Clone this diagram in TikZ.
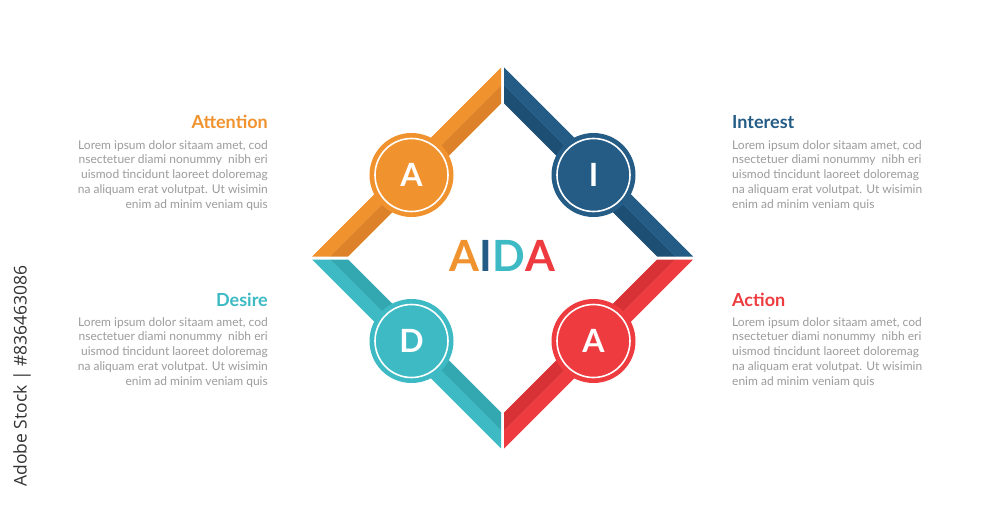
\documentclass[tikz,border=0pt]{standalone}
\usepackage{fontspec}
\setmainfont{Lato}
\newfontfamily\wmfont{Open Sans}
\definecolor{aorange}{HTML}{F0922E}
\definecolor{aorangedk}{HTML}{DE8229}
\definecolor{ablue}{HTML}{245C86}
\definecolor{abluedk}{HTML}{1D4E74}
\definecolor{ateal}{HTML}{3DBAC4}
\definecolor{atealdk}{HTML}{34A8B1}
\definecolor{ared}{HTML}{EE3B3F}
\definecolor{areddk}{HTML}{D93236}
\definecolor{txtgray}{HTML}{9C9C9C}
\definecolor{wmgray}{HTML}{333333}
\begin{document}
\begin{tikzpicture}[x=1pt,y=-1pt,
  ring/.style={draw=white, line width=1.6pt},
  circ/.style={circle, minimum size=84pt, inner sep=0pt, text=white, font=\bfseries\fontsize{32}{32}\selectfont},
  ttl/.style={font=\bfseries\fontsize{18}{20}\selectfont, inner sep=0pt},
  body/.style={font=\fontsize{12}{14.8}\selectfont, text=txtgray, inner sep=0pt},
]
\useasboundingbox[fill=white] (0,0) rectangle (1000,505);

% orange band (top-left)
\fill[aorange] (501,67.5) -- (501,85.5) -- (330,256.5) -- (312,256.5) -- cycle;
\fill[aorangedk] (501,85.5) -- (501,103.5) -- (348,256.5) -- (330,256.5) -- cycle;
% blue band (top-right)
\fill[ablue] (504,67.5) -- (504,85.5) -- (675,256.5) -- (693,256.5) -- cycle;
\fill[abluedk] (504,85.5) -- (504,103.5) -- (657,256.5) -- (675,256.5) -- cycle;
% teal band (bottom-left)
\fill[ateal] (312,259.5) -- (330,259.5) -- (501,430.5) -- (501,448.5) -- cycle;
\fill[atealdk] (330,259.5) -- (348,259.5) -- (501,412.5) -- (501,430.5) -- cycle;
% red band (bottom-right)
\fill[ared] (693,259.5) -- (675,259.5) -- (504,430.5) -- (504,448.5) -- cycle;
\fill[areddk] (675,259.5) -- (657,259.5) -- (504,412.5) -- (504,430.5) -- cycle;

% circles
\node[circ, fill=aorange] (cA) at (411.5,175) {A};
\node[circ, fill=ablue] (cI) at (593.5,175) {I};
\node[circ, fill=ateal] (cD) at (411.5,341) {D};
\node[circ, fill=ared] (cA2) at (593.5,341) {A};
\foreach \c in {cA,cI,cD,cA2} \draw[ring] (\c.center) circle[radius=36.5];

% centre title
\node[font=\bfseries\fontsize{43}{43}\selectfont, inner sep=0pt] (aida) at (502.5,256)
  {\textcolor{aorange}{A}\textcolor{ablue}{I}\textcolor{ateal}{D}\textcolor{ared}{A}};

% left texts
\node[ttl, text=aorange, anchor=base east] (tAtt) at (268,129) {Attention};
\node[body, anchor=base east, align=right] (bAtt) at (268,208.2)
  {Lorem ipsum dolor sitaam amet, cod\\nsectetuer diami nonummy\ \ nibh eri\\uismod tincidunt laoreet doloremag\\na aliquam erat volutpat. Ut wisimin\\enim ad minim veniam quis};
\node[ttl, text=ateal, anchor=base east] (tDes) at (268,306) {Desire};
\node[body, anchor=base east, align=right] (bDes) at (268,385.2)
  {Lorem ipsum dolor sitaam amet, cod\\nsectetuer diami nonummy\ \ nibh eri\\uismod tincidunt laoreet doloremag\\na aliquam erat volutpat. Ut wisimin\\enim ad minim veniam quis};

% right texts
\node[ttl, text=ablue, anchor=base west] (tInt) at (732,129) {Interest};
\node[body, anchor=base west, align=left] (bInt) at (732,208.2)
  {Lorem ipsum dolor sitaam amet, cod\\nsectetuer diami nonummy\ \ nibh eri\\uismod tincidunt laoreet doloremag\\na aliquam erat volutpat. Ut wisimin\\enim ad minim veniam quis};
\node[ttl, text=ared, anchor=base west] (tAct) at (732,306) {Action};
\node[body, anchor=base west, align=left] (bAct) at (732,385.2)
  {Lorem ipsum dolor sitaam amet, cod\\nsectetuer diami nonummy\ \ nibh eri\\uismod tincidunt laoreet doloremag\\na aliquam erat volutpat. Ut wisimin\\enim ad minim veniam quis};

% side stock label
\node[font=\wmfont\fontsize{17.5}{17.5}\selectfont, text=wmgray, rotate=90, inner sep=0pt] (wm) at (22,376) {Adobe Stock | \#836463086};
\end{tikzpicture}
\end{document}
